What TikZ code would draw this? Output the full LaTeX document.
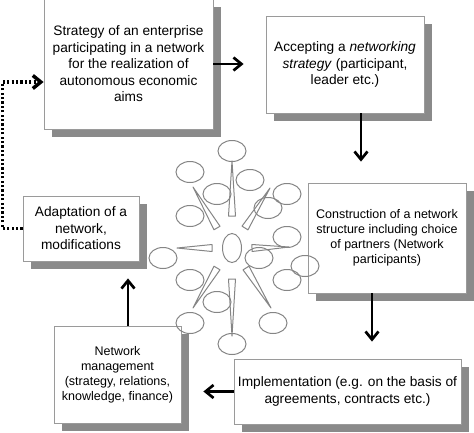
\documentclass[tikz,border=0pt]{standalone}
\usepackage{fontspec}
\setmainfont{Liberation Sans}
\usetikzlibrary{shapes.geometric, shadows, arrows.meta, calc}
\definecolor{shade}{HTML}{8A8A8A}
\definecolor{rim}{HTML}{9A9A9A}
\definecolor{ring}{HTML}{858585}
\newcommand{\netspoke}[2]{\draw[spoke] ($(#1)!3.5pt!90:(#2)$) -- (#2) -- ($(#1)!3.5pt!-90:(#2)$) -- cycle;}

\begin{document}
\begin{tikzpicture}[x=1pt, y=-1pt, >={Straight Barb[length=8pt,width=13pt]},
        box/.style={draw=rim, line width=0.8pt, fill=white, align=center, inner sep=0pt,
            drop shadow={shadow xshift=8pt, shadow yshift=-8pt, fill=shade, opacity=1}},
        big/.style={font=\fontsize{13.7}{16.5}\selectfont},
        small/.style={font=\fontsize{12.5}{15}\selectfont},
        flow/.style={->, line width=2.7pt},
        back/.style={->, line width=3.5pt, dash pattern=on 2.2pt off 2.2pt},
        member/.style={ellipse, draw=ring, line width=1pt, minimum width=28pt, minimum height=21pt, inner sep=0pt},
        spoke/.style={draw=ring, line width=1pt, line join=round}]
        \useasboundingbox (0,0) rectangle (474,432);
        \node[box,big,minimum width=169pt,minimum height=130pt] (strat) at (128.5,64) {Strategy of an enterprise\\participating in a network\\for the realization of\\autonomous economic\\aims};
        \node[box,big,minimum width=158pt,minimum height=97pt] (accept) at (345,64.5) {Accepting a \textit{networking}\\\textit{strategy} (participant,\\leader etc.)};
        \node[box,small,minimum width=158pt,minimum height=110pt] (constr) at (387,238) {Construction of a network\\structure including choice\\of partners (Network\\participants)};
        \node[box,big,minimum width=227pt,minimum height=65pt] (impl) at (347.5,391.5) {Implementation (e.g. on the basis of\\agreements, contracts etc.)};
        \node[box,small,minimum width=127pt,minimum height=97pt] (mgmt) at (117.5,374.5) {Network\\management\\(strategy, relations,\\knowledge, finance)};
        \node[box,big,minimum width=116pt,minimum height=65pt] (adapt) at (81,228.5) {Adaptation of a\\network,\\modifications};
        \draw[flow, shorten >=22pt] (strat.east) -- (strat.east -| accept.west);
        \draw[flow, shorten >=21pt] ([xshift=16pt]accept.south) -- ([xshift=16pt]accept.south |- constr.north);
        \draw[flow, shorten >=17pt] ([xshift=-15pt]constr.south) -- ([xshift=-15pt]constr.south |- impl.north);
        \draw[flow, shorten >=22pt] (impl.west) -- (impl.west -| mgmt.east);
        \draw[flow, shorten >=17pt] ([xshift=10.5pt]mgmt.north) -- ([xshift=10.5pt]mgmt.north |- adapt.south);
        \coordinate (turn) at (2.4,0);
        \draw[back] (adapt.west) -- (adapt.west -| turn) -- ([yshift=-18pt]strat.west -| turn) -- ([yshift=-18pt]strat.west);
        % network of partners
        \node[member, minimum width=19pt, minimum height=29pt] (hub) at (232,248) {};
        \foreach \x/\y [count=\i] in {232/151, 190/172, 250/180, 217/194, 287/194, 268/208, 190/216, 287/237, 163/258,
            259/258, 305/266, 190/280, 287/280, 217/302, 190/323, 273/323, 232/344}
            \node[member] (p\i) at (\x,\y) {};
        \netspoke{232,216}{232,161}
        \netspoke{217,228}{193,187}
        \netspoke{245,228}{270,188}
        \netspoke{212,248}{177,248}
        \netspoke{252,248}{289,247}
        \netspoke{217,268}{193,308}
        \netspoke{246,268}{271,308}
        \netspoke{232,279}{232,336}
    \end{tikzpicture}
\end{document}
